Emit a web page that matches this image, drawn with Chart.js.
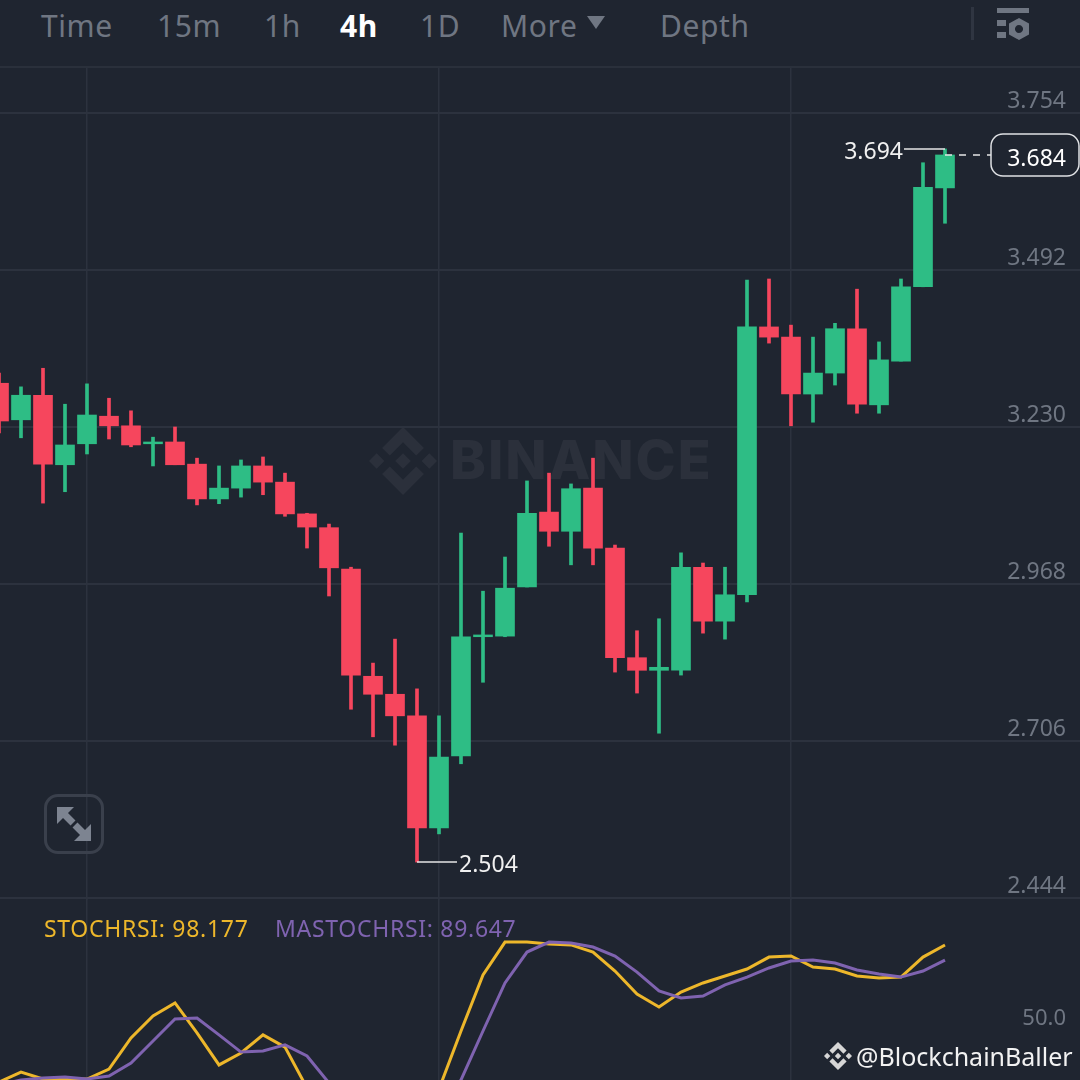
<!DOCTYPE html>
<html>
<head>
<meta charset="utf-8">
<script src="https://cdn.jsdelivr.net/npm/chart.js@4/dist/chart.umd.min.js"></script>
<style>
  html, body { margin: 0; padding: 0; background: #1f2530; }
  #page { position: relative; width: 1080px; height: 1080px; overflow: hidden; background: #1f2530; font-family: "Noto Sans", sans-serif; }
  #page > * { position: absolute; }
  .tab { top: 6px; font-size: 30px; line-height: 40px; color: #6f7682; letter-spacing: 0.6px; white-space: nowrap; }
  .tab.active { color: #ffffff; font-weight: 700; }
  #headerLine { left: 0; top: 66px; width: 1080px; height: 2px; background: #2a303b; }
  #headerDivider { left: 971px; top: 7px; width: 3px; height: 33px; background: #2f3541; }
  #moreArrow { left: 587px; top: 16px; width: 0; height: 0; border-left: 9px solid transparent; border-right: 9px solid transparent; border-top: 13px solid #6f7682; }
  #wmLogo { left: 369px; top: 427px; width: 68px; height: 68px; fill: #2b303b; }
  #wmText { left: 450px; top: 425px; font-family: "Inter", sans-serif; font-weight: 800; font-size: 54px; line-height: 70px; letter-spacing: 2px; color: #2b303b; white-space: nowrap; }
  #mainChart { left: 0; top: 68px; }
  #stochChart { left: 0; top: 898px; }
  .legend { top: 913px; font-size: 23px; line-height: 30px; white-space: nowrap; letter-spacing: 0.7px; }
  #stochLegend { left: 44px; color: #edb72b; }
  #maLegend { left: 275px; color: #7f63b0; }
  #expand { left: 44px; top: 794px; width: 54px; height: 54px; border: 3px solid #3a404c; border-radius: 14px; }
  #credit { left: 856px; top: 1038px; font-size: 25px; line-height: 36px; color: #f2f2f2; white-space: nowrap; }
  #creditLogo { left: 824px; top: 1042px; width: 28px; height: 28px; fill: #d6d6d6; }
</style>
</head>
<body>
<div id="page">
  <svg width="0" height="0" style="display:none">
    <symbol id="bnb" viewBox="0 0 126.61 126.61">
      <path d="M38.73 53.2l24.59-24.58 24.6 24.6 14.3-14.31L63.32 0 24.43 38.9zM0 63.31l14.3-14.31 14.31 14.31-14.31 14.3zM38.73 73.41l24.59 24.59 24.6-24.6 14.31 14.29-38.9 38.91-38.91-38.88v-.01zM98 63.31l14.3-14.3 14.31 14.3-14.31 14.3zM77.83 63.3L63.32 48.78 52.59 59.51l-1.24 1.23-2.54 2.54 14.51 14.5 14.51-14.47z"/>
    </symbol>
  </svg>

  <span class="tab" style="left:41px">Time</span>
  <span class="tab" style="left:157px">15m</span>
  <span class="tab" style="left:264px">1h</span>
  <span class="tab active" style="left:340px">4h</span>
  <span class="tab" style="left:420px">1D</span>
  <span class="tab" style="left:501px">More</span>
  <div id="moreArrow"></div>
  <span class="tab" style="left:660px">Depth</span>
  <div id="headerDivider"></div>
  <svg style="left:996px;top:7px" width="36" height="34" viewBox="0 0 36 34" fill="#6f7682">
    <rect x="1" y="1" width="32" height="5"/>
    <rect x="1" y="13" width="9" height="6"/>
    <rect x="1" y="25" width="9" height="6"/>
    <path fill-rule="evenodd" d="M23 11l10 5.5v11L23 33l-10-5.5v-11zM23 18a4 4 0 1 0 .01 0z"/>
  </svg>
  <div id="headerLine"></div>

  <svg id="wmLogo"><use href="#bnb"/></svg>
  <div id="wmText">BINANCE</div>

  <canvas id="mainChart" width="1080" height="832"></canvas>
  <canvas id="stochChart" width="1080" height="182"></canvas>

  <div id="stochLegend" class="legend"></div>
  <div id="maLegend" class="legend"></div>

  <div id="expand">
    <svg width="54" height="54" viewBox="0 0 54 54" fill="#7d8491" stroke="none">
      <path d="M10 10h17L10 27zM44 44H27l17-17z"/>
      <path d="M17 17l9 9M28 28l9 9" stroke="#7d8491" stroke-width="7"/>
    </svg>
  </div>

  <svg id="creditLogo"><use href="#bnb"/></svg>
  <div id="credit">@BlockchainBaller</div>
</div>

<script>
const opens = [3.303, 3.242, 3.283, 3.167, 3.202, 3.248, 3.232, 3.202, 3.205, 3.168, 3.110, 3.128, 3.165, 3.138, 3.085, 3.062, 2.993, 2.814, 2.784, 2.748, 2.561, 2.681, 2.880, 2.881, 2.963, 3.088, 3.056, 3.128, 3.028, 2.845, 2.824, 2.824, 2.996, 2.906, 2.950, 3.397, 3.380, 3.285, 3.320, 3.394, 3.267, 3.340, 3.464, 3.629];
const closes = [3.240, 3.283, 3.168, 3.200, 3.250, 3.232, 3.200, 3.205, 3.167, 3.110, 3.128, 3.165, 3.138, 3.085, 3.063, 2.995, 2.816, 2.784, 2.748, 2.561, 2.679, 2.880, 2.883, 2.961, 3.086, 3.056, 3.127, 3.028, 2.845, 2.824, 2.829, 2.996, 2.906, 2.950, 3.397, 3.380, 3.285, 3.320, 3.394, 3.268, 3.342, 3.464, 3.630, 3.684];
const highs = [3.320, 3.297, 3.328, 3.268, 3.302, 3.278, 3.257, 3.213, 3.230, 3.178, 3.165, 3.175, 3.180, 3.153, 3.086, 3.068, 2.996, 2.836, 2.876, 2.793, 2.748, 3.053, 2.956, 3.013, 3.140, 3.153, 3.135, 3.178, 3.033, 2.890, 2.910, 3.020, 3.003, 2.996, 3.475, 3.477, 3.400, 3.380, 3.403, 3.460, 3.372, 3.477, 3.671, 3.694];
const lows = [3.220, 3.212, 3.103, 3.122, 3.185, 3.210, 3.197, 3.165, 3.167, 3.100, 3.102, 3.113, 3.117, 3.081, 3.028, 2.948, 2.759, 2.713, 2.699, 2.504, 2.551, 2.668, 2.804, 2.880, 2.963, 3.031, 3.000, 3.000, 2.821, 2.786, 2.719, 2.816, 2.886, 2.876, 2.938, 3.370, 3.232, 3.238, 3.300, 3.253, 3.253, 3.340, 3.464, 3.570];
const stochRsi = [21.4, 27.0, 23.1, 23.1, 23.1, 28.7, 46.1, 58.4, 65.7, 48.9, 31.0, 37.7, 47.8, 41.0, 18.1, 8.6, 3.0, 1.3, 0.2, 1.5, 17.5, 50.0, 81.4, 99.8, 99.8, 98.7, 98.2, 94.2, 83.6, 70.7, 63.4, 71.8, 76.9, 80.8, 84.7, 91.4, 92.0, 85.8, 84.7, 80.8, 79.7, 80.2, 91.4, 98.177];
const maStochRsi = [20.0, 22.5, 23.7, 24.2, 23.1, 24.8, 32.1, 44.4, 56.7, 57.3, 47.8, 38.2, 38.8, 42.2, 36.0, 20.9, 11.4, 4.6, 1.3, 0.2, 4.6, 22.6, 50.0, 76.9, 94.2, 99.8, 99.3, 97.0, 92.0, 83.0, 72.4, 68.5, 69.6, 75.8, 80.2, 85.3, 89.2, 89.8, 88.1, 84.2, 81.9, 80.2, 83.6, 89.647];
const priceTicks = [2.444, 2.706, 2.968, 3.230, 3.492, 3.754];
const stochTicks = [50];
const timeGridIndexes = [4, 20, 36];

const RED = "#f6465d";
const GREEN = "#2ebd85";
const GRID = "#2c323e";
const MUTED = "#6f7682";
const TICK_FONT = { family: "Noto Sans", size: 23 };

const candleColors = opens.map((open, i) => (closes[i] >= open ? GREEN : RED));
const toPoints = (top, bottom) => top.map((value, i) => ({ x: i, y: [value, bottom[i]] }));
const toLine = (values) => values.map((value, i) => ({ x: i, y: value }));

// one index is 22px wide, first candle sits just off the left edge
const xScale = {
  type: "linear",
  min: 1 / 22,
  max: 1 / 22 + 1080 / 22,
  offset: false,
  border: { display: false },
  grid: { color: GRID, lineWidth: 1.5, offset: false, drawTicks: false },
  ticks: { display: false },
  afterBuildTicks: (axis) => {
    axis.ticks = timeGridIndexes.map((value) => ({ value }));
  },
  afterFit: (axis) => {
    axis.height = 0;
  },
};

const flattenAxis = (axis) => {
  axis.width = 0;
  axis.paddingTop = 0;
  axis.paddingBottom = 0;
};

// high, low and last price markers, positioned through the price scale
const priceMarkers = {
  id: "priceMarkers",
  afterDatasetsDraw(chart) {
    const { ctx, scales } = chart;
    const last = opens.length - 1;
    const lowIndex = lows.indexOf(Math.min(...lows));
    const highIndex = highs.indexOf(Math.max(...highs));
    const lastX = scales.x.getPixelForValue(last);
    const lastY = scales.y.getPixelForValue(closes[last]);
    const highX = scales.x.getPixelForValue(highIndex);
    const highY = scales.y.getPixelForValue(highs[highIndex]);
    const lowX = scales.x.getPixelForValue(lowIndex);
    const lowY = scales.y.getPixelForValue(lows[lowIndex]);

    ctx.save();
    ctx.strokeStyle = "#e6e6e6";
    ctx.fillStyle = "#f0f0f0";
    ctx.lineWidth = 1.5;
    ctx.font = '23px "Noto Sans"';
    ctx.textBaseline = "middle";

    ctx.beginPath();
    ctx.moveTo(highX, highY);
    ctx.lineTo(highX - 41, highY);
    ctx.stroke();
    ctx.textAlign = "right";
    ctx.fillText(highs[highIndex].toFixed(3), highX - 42, highY + 3);

    ctx.beginPath();
    ctx.moveTo(lowX, lowY);
    ctx.lineTo(lowX + 40, lowY);
    ctx.stroke();
    ctx.textAlign = "left";
    ctx.fillText(lows[lowIndex].toFixed(3), lowX + 42, lowY + 3);

    ctx.setLineDash([7, 7]);
    ctx.beginPath();
    ctx.moveTo(lastX, lastY);
    ctx.lineTo(991, lastY);
    ctx.stroke();
    ctx.setLineDash([]);

    ctx.beginPath();
    ctx.roundRect(991, lastY - 21, 88, 42, 12);
    ctx.fillStyle = "#1f2530";
    ctx.fill();
    ctx.strokeStyle = "#dfe1e4";
    ctx.stroke();
    ctx.fillStyle = "#ffffff";
    ctx.textAlign = "right";
    ctx.fillText(closes[last].toFixed(3), 1066, lastY + 5);
    ctx.restore();
  },
};

new Chart(document.getElementById("mainChart"), {
  type: "bar",
  data: {
    datasets: [
      {
        data: toPoints(opens, closes),
        backgroundColor: candleColors,
        barThickness: 19,
        grouped: false,
      },
      {
        data: toPoints(highs, lows),
        backgroundColor: candleColors,
        barThickness: 3,
        grouped: false,
      },
    ],
  },
  options: {
    responsive: false,
    animation: false,
    layout: { padding: 0, autoPadding: false },
    plugins: { legend: { display: false }, tooltip: { enabled: false } },
    scales: {
      x: xScale,
      y: {
        position: "right",
        min: 2.444 - 2 / 599.24,
        max: 3.754 + 45 / 599.24,
        border: { display: false },
        grid: { color: GRID, lineWidth: 2, drawTicks: false },
        ticks: {
          mirror: true,
          padding: -14,
          labelOffset: -12,
          color: MUTED,
          font: TICK_FONT,
          callback: (value) => Number(value).toFixed(3),
        },
        afterBuildTicks: (axis) => {
          axis.ticks = priceTicks.map((value) => ({ value }));
        },
        afterFit: flattenAxis,
      },
    },
  },
  plugins: [priceMarkers],
});

new Chart(document.getElementById("stochChart"), {
  type: "line",
  data: {
    datasets: [
      {
        data: toLine(maStochRsi),
        borderColor: "#7f63b0",
        borderWidth: 3,
        pointRadius: 0,
        tension: 0,
      },
      {
        data: toLine(stochRsi),
        borderColor: "#edb72b",
        borderWidth: 3,
        pointRadius: 0,
        tension: 0,
      },
    ],
  },
  options: {
    responsive: false,
    animation: false,
    layout: { padding: 0, autoPadding: false },
    plugins: { legend: { display: false }, tooltip: { enabled: false } },
    scales: {
      x: xScale,
      y: {
        position: "right",
        min: 50 - 49 * 0.56,
        max: 50 + 133 * 0.56,
        border: { display: false },
        grid: { drawOnChartArea: false, drawTicks: false },
        ticks: {
          mirror: true,
          padding: -14,
          labelOffset: -12,
          color: MUTED,
          font: { family: "Noto Sans", size: 22 },
          callback: (value) => Number(value).toFixed(1),
        },
        afterBuildTicks: (axis) => {
          axis.ticks = stochTicks.map((value) => ({ value }));
        },
        afterFit: flattenAxis,
      },
    },
  },
});

document.getElementById("stochLegend").textContent =
  "STOCHRSI: " + stochRsi[stochRsi.length - 1].toFixed(3);
document.getElementById("maLegend").textContent =
  "MASTOCHRSI: " + maStochRsi[maStochRsi.length - 1].toFixed(3);
</script>
</body>
</html>
